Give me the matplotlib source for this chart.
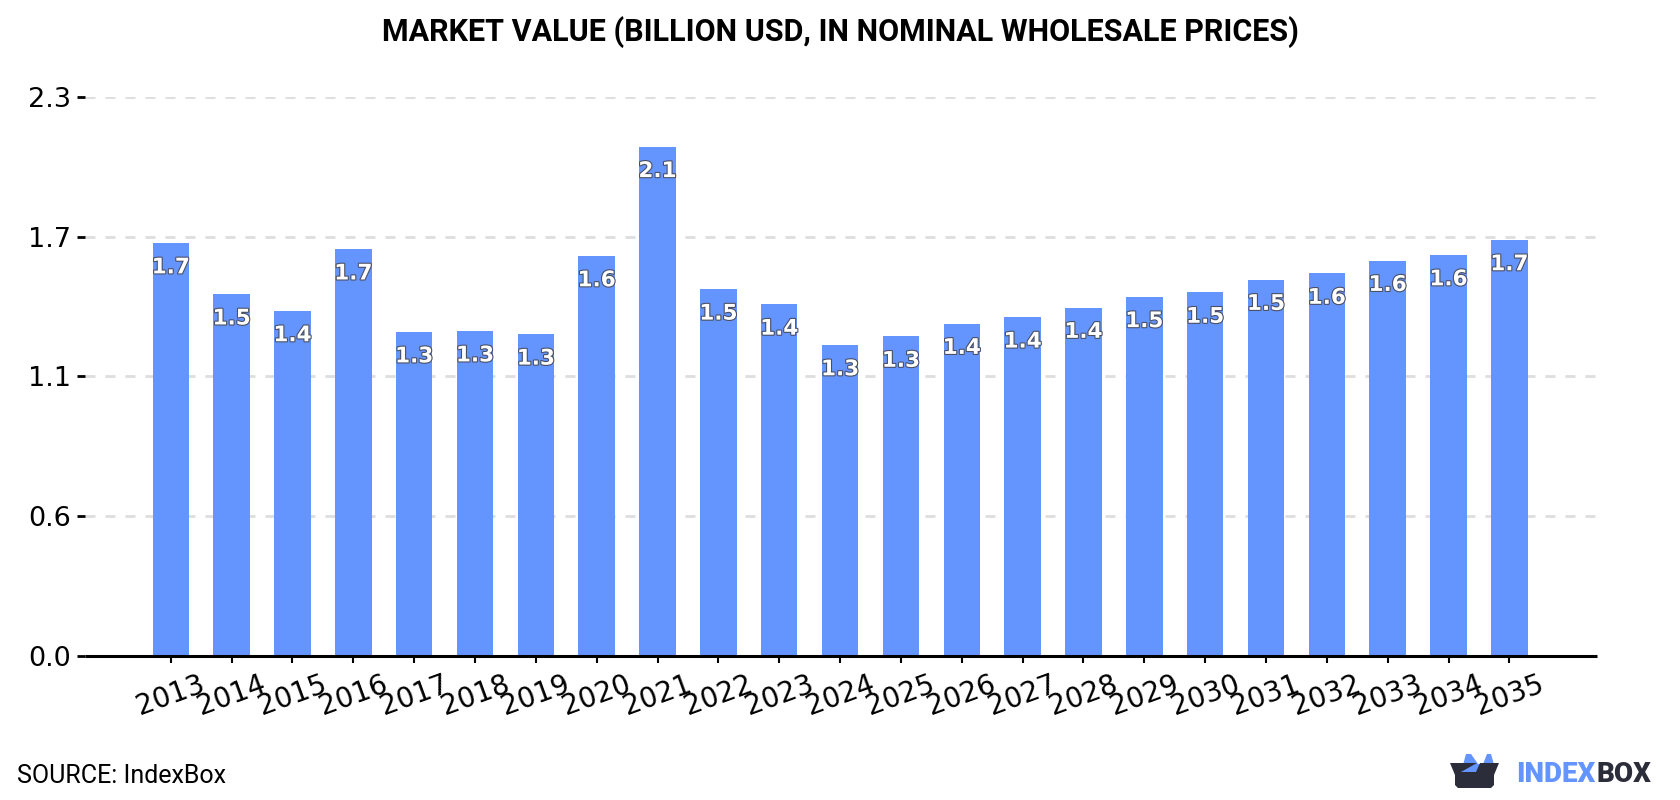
"""Market value bar chart with rounded value labels and a small brand mark."""
import matplotlib

matplotlib.use("Agg")
import matplotlib.patheffects as pe
import matplotlib.pyplot as plt
from matplotlib.patches import Polygon

W, H = 1680, 800
BLUE = "#6495ff"
DARK = "#2b2d3a"

years = list(range(2013, 2036))
values = [
    1.698, 1.488, 1.419, 1.673, 1.332, 1.336, 1.323, 1.645, 2.094, 1.508, 1.446, 1.279,
    1.314, 1.367, 1.393, 1.433, 1.477, 1.495, 1.548, 1.573, 1.626, 1.649, 1.711,
]
y_ticks = [0.0, 0.575, 1.15, 1.725, 2.3]
y_labels = ["0.0", "0.6", "1.1", "1.7", "2.3"]

title = "MARKET VALUE (BILLION USD, IN NOMINAL WHOLESALE PRICES)"
source = "SOURCE: IndexBox"


def px_box(left, top, right, bottom):
    return [left / W, 1 - bottom / H, (right - left) / W, (bottom - top) / H]


def px_poly(points, color):
    pts = [(x / W, 1 - y / H) for x, y in points]
    return Polygon(pts, closed=True, facecolor=color, edgecolor="none", transform=fig.transFigure)


fig = plt.figure(figsize=(W / 100, H / 100), dpi=100, facecolor="white")
ax = fig.add_axes(px_box(85, 96.7, 1597, 656))

xs = list(range(len(years)))
bars = ax.bar(xs, values, width=0.6, color=BLUE, zorder=2)
ax.set_xlim(-1.41, 23.44)
ax.set_ylim(0, 2.3)

ax.set_yticks(y_ticks, y_labels)
ax.set_xticks(xs, years, rotation=20, ha="center")
ax.tick_params(axis="y", labelsize=19.5, length=5.8, width=2, pad=4)
ax.tick_params(axis="x", labelsize=20, length=5, width=1.5, pad=5)
ax.grid(axis="y", color="#dedede", lw=2, ls=(0, (3.6, 3.6)), zorder=1)
ax.set_axisbelow(True)
for side in ("top", "right", "left"):
    ax.spines[side].set_visible(False)
ax.spines["bottom"].set_linewidth(2.2)
ax.spines["bottom"].set_capstyle("butt")

# white labels with a thin dark outline, hung just below each bar top
for x, v in zip(xs, values):
    ax.annotate(
        f"{v:.1f}", (x, v), xytext=(0, -17.5), textcoords="offset points",
        ha="center", va="center", fontsize=15.5, fontweight="bold", color="white", zorder=3,
        path_effects=[pe.withStroke(linewidth=1.6, foreground="#4a4f63")],
    )

fig.text(840 / W, 1 - 32 / H, title, ha="center", va="center",
         family="Roboto", fontweight="bold", fontsize=22, color="black")
fig.text(17 / W, 1 - 776 / H, source, ha="left", va="center",
         family="Roboto", fontsize=18, color="black")

# brand mark: ears behind a basket, then the wordmark
fig.add_artist(px_poly([(1461, 772), (1466, 754), (1471, 754), (1478, 764), (1483, 764),
                        (1487, 754), (1491, 754), (1495, 768), (1480, 772), (1476, 772)], BLUE))
fig.add_artist(px_poly([(1450, 763), (1477, 763), (1461, 772), (1476, 772), (1480, 763),
                        (1499, 763), (1494, 775), (1494, 785), (1491, 788), (1458, 788),
                        (1455, 785), (1455, 775)], DARK))
fig.text(1516 / W, 1 - 774 / H, "INDEX", ha="left", va="center",
         family="Roboto", fontweight="heavy", fontsize=20, color=BLUE)
fig.text(1596 / W, 1 - 774 / H, "BOX", ha="left", va="center",
         family="Roboto", fontweight="heavy", fontsize=20, color=DARK)

fig.savefig("out.png", dpi=100)
